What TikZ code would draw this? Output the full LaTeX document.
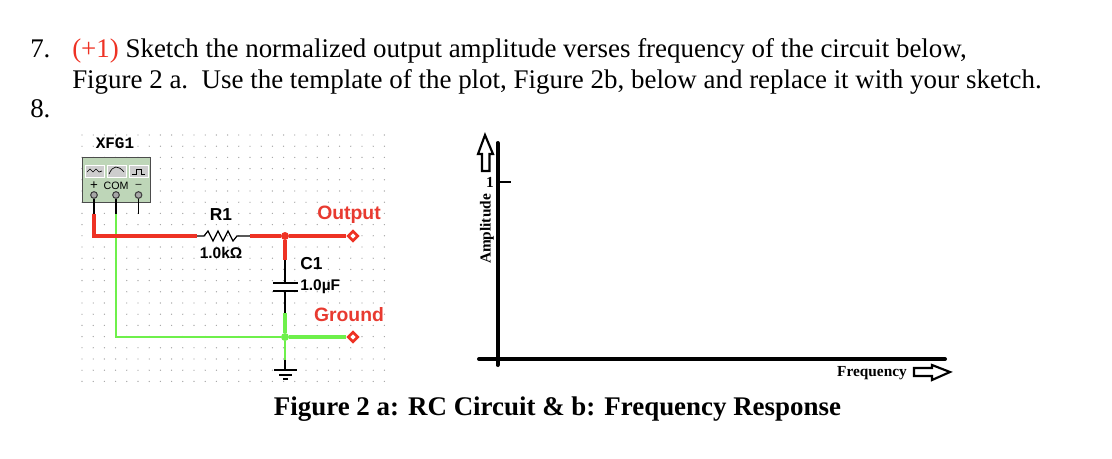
\documentclass[tikz,border=0pt]{standalone}
\usepackage{fontspec}
\setmainfont{Liberation Serif}
\newfontfamily\arialf{Liberation Sans}
\newfontfamily\monof{Liberation Mono}
\usetikzlibrary{shapes.geometric}
\definecolor{wred}{RGB}{238,50,36}
\definecolor{wgreen}{RGB}{110,240,75}
\definecolor{lblred}{RGB}{232,58,48}
\definecolor{boxgreen}{RGB}{190,214,184}
\definecolor{btn}{RGB}{205,205,205}
\definecolor{griddot}{RGB}{160,160,160}
\tikzset{
  x=0.75pt,y=-0.75pt,
  title/.style={anchor=base west,inner sep=0pt,font=\fontsize{20.2pt}{24pt}\selectfont},
  sanslbl/.style={inner sep=0pt,font=\arialf\bfseries\fontsize{13pt}{15pt}\selectfont},
  vallbl/.style={inner sep=0pt,font=\arialf\bfseries\fontsize{11.6pt}{13pt}\selectfont},
  outlbl/.style={inner sep=0pt,text=lblred,font=\arialf\bfseries\fontsize{14.5pt}{16pt}\selectfont},
  plotlbl/.style={inner sep=0pt,font=\bfseries\fontsize{11.5pt}{13pt}\selectfont},
  redwire/.style={draw=wred,line width=3pt},
  greenthick/.style={draw=wgreen,line width=3pt},
  greenthin/.style={draw=wgreen,line width=0.9pt},
  blackwire/.style={draw=black,line width=0.9pt},
  axisline/.style={draw=black,line width=3pt,line cap=round},
  hollow/.style={draw=black,line width=1.6pt,fill=white,line join=miter},
  button/.style={fill=btn,draw=white,line width=0.4pt,minimum width=14.5pt,minimum height=9pt,inner sep=0pt},
  pin/.style={circle,draw=black!75,fill=black!35,line width=0.8pt,minimum size=5pt,inner sep=0pt},
  term/.style={diamond,fill=wred,minimum size=10pt,inner sep=0pt},
  termhole/.style={diamond,fill=white,minimum size=4pt,inner sep=0pt},
  junction/.style={circle,minimum size=6pt,inner sep=0pt},
  genlbl/.style={inner sep=0pt,font=\arialf\fontsize{8pt}{9pt}\selectfont},
}
\begin{document}
\begin{tikzpicture}
\useasboundingbox (0,0) rectangle (1112,458);
% question text
\node[title] (q7) at (30,57) {7.};
\node[title] (q7a) at (72,57) {\textcolor{wred}{(+1)} Sketch the normalized output amplitude verses frequency of the circuit below,};
\node[title] (q7b) at (72,88) {Figure 2 a.\ \ Use the template of the plot, Figure 2b, below and replace it with your sketch.};
\node[title] (q8) at (30,117) {8.};
% grid of dots
\foreach \gx in {0,...,27}{\foreach \gy in {0,...,22}{
  \fill[griddot] (82+\gx*11.2,135+\gy*11.2) circle (0.5pt);}}
% generator
\node[inner sep=0pt,font=\monof\bfseries\fontsize{12pt}{14pt}\selectfont] (xfg) at (115,143.5) {XFG1};
\node[draw=black!70,fill=boxgreen,line width=0.6pt,minimum width=51pt,minimum height=33.75pt,inner sep=0pt] (gen) at (116,179.5) {};
\node[button] (b1) at (94.5,171) {};
\node[button] (b2) at (117,171) {};
\node[button] (b3) at (139,171) {};
\draw[line width=0.5pt] (87,172) -- (90,169) -- (93,172) -- (96,169) -- (99,172) -- (102,171);
\draw[line width=0.5pt] (109,174) .. controls (113,165) and (118,165) .. (124,172);
\draw[line width=0.5pt] (132,174) -- (136,174) -- (136,169) -- (141,169) -- (141,174) -- (145,174);
\node[genlbl,font=\arialf\fontsize{10pt}{11pt}\selectfont] (plus) at (94,186) {+};
\node[genlbl] (com) at (116,186) {COM};
\node[genlbl] (minus) at (138.5,186) {–};
\node[pin] (p1) at (94,195) {};
\node[pin] (p2) at (116,195) {};
\node[pin] (p3) at (138.5,195) {};
\coordinate (p1e) at (94,214);
\coordinate (p2e) at (116,214);
\coordinate (p3e) at (138.5,214);
\draw[blackwire] (p1) -- (p1e);
\draw[blackwire] (p2) -- (p2e);
\draw[blackwire] (p3) -- (p3e);
% circuit points
\coordinate (rl) at (197,236);
\coordinate (rr) at (250,236);
\coordinate (c1t) at (285,283);
\coordinate (c1b) at (285,291);
\node[term] (out) at (353,236) {};
\node[term] (gnd) at (353,337) {};
\node[termhole] at (out) {};
\node[termhole] at (gnd) {};
\node[junction,fill=wred] (jr) at (285,236) {};
\node[junction,fill=wgreen] (jg) at (285,337) {};
% wires
\draw[greenthin] (p2e) -- (116,337) -- (jg);
\draw[redwire,line join=miter] (p1e) -- (94,236) -- (rl);
\draw[blackwire] (rl) -- (204,236)
  -- (208,231) -- (213,241) -- (218,231) -- (223,241) -- (228,231) -- (233,241) -- (237,236) -- (rr);
\draw[redwire] (rr) -- (jr) -- (out);
\coordinate (rd) at (285,260);
\draw[redwire] (jr) -- (rd);
\draw[blackwire] (rd) -- (c1t);
\draw[line width=1.6pt] (273,283) -- (298,283);
\draw[line width=1.6pt] (273,291) -- (298,291);
\coordinate (gt) at (285,313);
\draw[blackwire] (c1b) -- (gt);
\draw[greenthick] (gt) -- (jg);
\draw[greenthick] (jg) -- (gnd);
\coordinate (gd) at (285,360);
\coordinate (ge) at (285,370);
\draw[greenthin] (jg) -- (gd);
\draw[blackwire] (gd) -- (ge);
\draw[line width=0.9pt] (274,370) -- (297,370);
\draw[line width=0.9pt] (279,375) -- (292,375);
\draw[line width=0.9pt] (283,379) -- (288,379);
% labels
\node[sanslbl] (r1) at (221,215) {R1};
\node[vallbl] (r1v) at (221,253) {1.0kΩ};
\node[sanslbl,anchor=west] (c1) at (300,264) {C1};
\node[vallbl,anchor=west] (c1v) at (300,287) {1.0µF};
\node[outlbl] (outl) at (349,215) {Output};
\node[outlbl] (gndl) at (349,315) {Ground};
% plot
\coordinate (yb) at (497.5,365);
\coordinate (yt) at (497.5,143);
\coordinate (xl) at (479,359);
\coordinate (xr) at (945,359);
\draw[axisline] (yb) -- (yt);
\draw[axisline] (xl) -- (xr);
\coordinate (t1) at (497.5,182);
\coordinate (t2) at (511,182);
\draw[line width=1.3pt] (t1) -- (t2);
\node[plotlbl,anchor=east] (one) at (494,182) {1};
\node[plotlbl,rotate=90] (amp) at (487,229) {Amplitude};
\node[plotlbl] (freq) at (872,373) {Frequency};
\draw[hollow] (485,135) -- (493,154) -- (489.5,154) -- (489.5,171) -- (482,171) -- (482,154) -- (478,154) -- cycle;
\draw[hollow] (950,372) -- (932,365) -- (932,368) -- (914,368) -- (914,376) -- (932,376) -- (932,380) -- cycle;
\node[inner sep=0pt,font=\bfseries\fontsize{20.2pt}{24pt}\selectfont] (cap) at (557.5,409) {Figure 2 a: RC Circuit \& b: Frequency Response};
\end{tikzpicture}
\end{document}
